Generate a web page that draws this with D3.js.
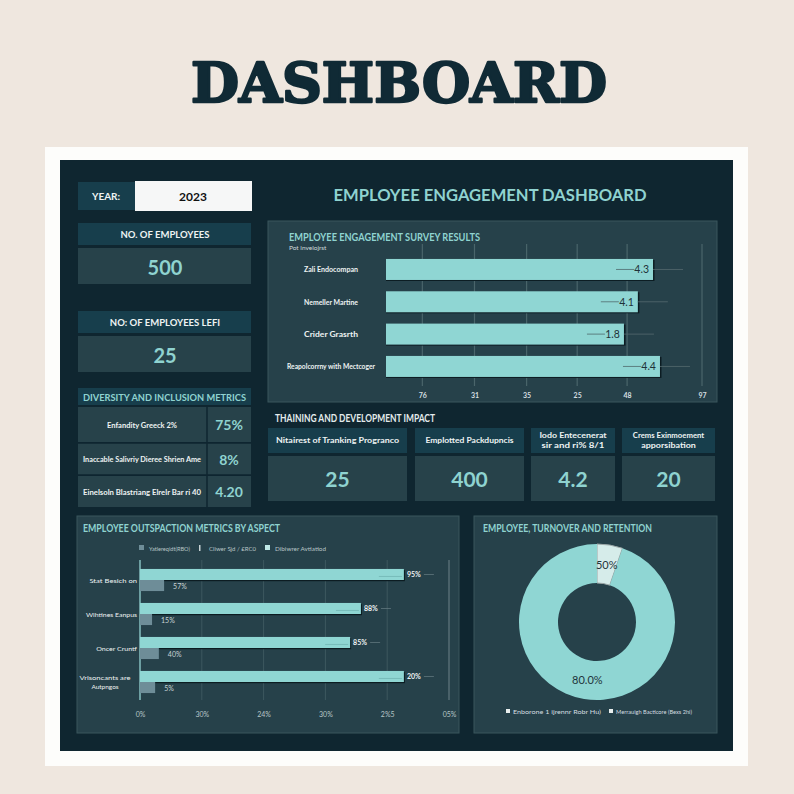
<!DOCTYPE html>
<html><head><meta charset="utf-8">
<script src="https://cdn.jsdelivr.net/npm/d3@7"></script>
<style>html,body{margin:0;padding:0;background:#efe7df;}svg{display:block;}</style>
</head><body>
<svg id="c" width="794" height="794"></svg>
<script>
// ---------- data ----------
const pageTitle = "DASHBOARD";
const dashTitle = "EMPLOYEE ENGAGEMENT DASHBOARD";
const yearLabel = "YEAR:";
const yearValue = "2023";
const kpiLabels = ["NO. OF EMPLOYEES", "NO: OF EMPLOYEES LEFI"];
const kpiValues = ["500", "25"];
const diversityTitle = "DIVERSITY AND INCLUSION METRICS";
const diversityLabels = ["Enfandity Greeck 2%", "Inaccable Salivriy Dieree Shrien Ame", "Einelsoln Blastriang Elrelr Bar ri 40"];
const diversityValues = ["75%", "8%", "4.20"];

const surveyTitle = "EMPLOYEE ENGAGEMENT SURVEY RESULTS";
const surveySubtitle = "Pot invelojrst";
const surveyCategories = ["Zali Endocompan", "Nemeller Martine", "Crider Grasrth", "Reapolcorrny with Mectcoger"];
const surveyBarValues = [84.5, 79.7, 75.3, 86.7];
const surveyLabels = ["4.3", "4.1", "1.8", "4.4"];
const surveyTickValues = [11.5, 28, 44.5, 60.5, 76.3, 100];
const surveyTickLabels = ["76", "31", "35", "25", "48", "97"];

const trainingTitle = "THAINING AND DEVELOPMENT IMPACT";
const trainingLabels = [["Nitairest of Tranking Progranco"], ["Emplotted Packdupncis"], ["Iodo Entecenerat", "sir and ri% 8/1"], ["Crems Exinmoement", "apporsibation"]];
const trainingValues = ["25", "400", "4.2", "20"];

const aspectTitle = "EMPLOYEE OUTSPACTION METRICS BY ASPECT";
const aspectCategories = [["Stat Besich on"], ["Wihtines Eanpus"], ["Oncer Cruntf"], ["Vrisoncants are", "Autpngos"]];
const aspectSeriesNames = ["Yatlereqidt(RBO)", "Cliwer Sjd / £RC0", "Dibiwrer Avtiatiod"];
const aspectTeal = [85.4, 71.5, 68.0, 85.4];
const aspectTealLabels = ["95%", "88%", "85%", "20%"];
const aspectGray = [7.8, 3.9, 6.1, 4.9];
const aspectGrayLabels = ["57%", "15%", "40%", "5%"];
const aspectTickValues = [0, 20, 40, 60, 80, 100];
const aspectTickLabels = ["0%", "30%", "24%", "30%", "2%5", "05%"];

const donutTitle = "EMPLOYEE, TURNOVER AND RETENTION";
const donutValues = [5.3, 94.7];
const donutLabels = ["50%", "80.0%"];
const donutLegend = ["Enborone 1 ijrennr Robr Hu)", "Merrauigh Bacticore (Bexs 2hi)"];

// ---------- style ----------
const C = {
  bg: "#efe7df", card: "#fdfdfb", dark: "#0f2630", head: "#173e4c", box: "#27424a",
  panel: "#26414a", border: "#3a565d", teal: "#8fd6d3", tealText: "#8fd3d0",
  white: "#eef3f3", gray: "#6e8d98", grid: "#4a656b"
};
const SANS = "Lato, 'Open Sans', 'DejaVu Sans', sans-serif";

const svg = d3.select("#c");
svg.append("rect").attr("width", 794).attr("height", 794).attr("fill", C.bg);

svg.append("text").attr("x", 399).attr("y", 102).attr("text-anchor", "middle")
  .attr("font-family", "'DejaVu Serif', serif").attr("font-weight", 900).attr("font-size", 54)
  .attr("fill", "#102a35").attr("textLength", 416).attr("lengthAdjust", "spacingAndGlyphs")
  .attr("stroke", "#102a35").attr("stroke-width", 2.4).attr("stroke-linejoin", "round")
  .text(pageTitle);

svg.append("rect").attr("x", 45).attr("y", 147).attr("width", 703).attr("height", 619).attr("fill", C.card);
svg.append("rect").attr("x", 60).attr("y", 160).attr("width", 673).attr("height", 591).attr("fill", C.dark);

function txt(g, x, y, s, o) {
  o = o || {};
  const t = g.append("text").attr("x", x).attr("y", y)
    .attr("text-anchor", o.anchor || "middle").attr("dominant-baseline", "central")
    .attr("font-family", o.family || SANS).attr("font-weight", o.weight || 700)
    .attr("font-size", o.size || 10).attr("fill", o.fill || C.white).text(s);
  if (o.len) t.attr("textLength", o.len).attr("lengthAdjust", "spacingAndGlyphs");
  return t;
}
function box(x, y, w, h, fill, stroke) {
  const r = svg.append("rect").attr("x", x).attr("y", y).attr("width", w).attr("height", h).attr("fill", fill);
  if (stroke) r.attr("stroke", stroke).attr("stroke-width", 1);
  return r;
}

// ---------- dashboard title ----------
txt(svg, 490, 194, dashTitle, { size: 17, fill: C.tealText, len: 313, weight: 700 });

// ---------- left column ----------
box(78, 182, 57, 28, C.head);
txt(svg, 106, 196, yearLabel, { size: 10 });
box(135, 181, 117, 30, "#f6f7f7");
txt(svg, 193, 196, yearValue, { size: 12, fill: "#111" });

const kpiTops = [223, 311];
kpiLabels.forEach((l, i) => {
  const y0 = kpiTops[i];
  box(78, y0, 173, 22, C.head);
  txt(svg, 165, y0 + 11.5, l, { size: 9.5 });
  box(78, y0 + 25, 173, 36, C.box);
  txt(svg, 165, y0 + 44, kpiValues[i], { size: 20, fill: C.tealText });
});

box(78, 388, 173, 17, C.head);
txt(svg, 83, 396.5, diversityTitle, { size: 10, fill: C.tealText, anchor: "start", len: 163 });
const divTops = [407, 443, 476];
const divH = [35, 32, 31];
diversityLabels.forEach((l, i) => {
  box(78, divTops[i], 173, divH[i], C.box);
  txt(svg, 142, divTops[i] + divH[i] / 2, l, { size: 7, len: l.length > 22 ? 118 : 70 });
  txt(svg, 229, divTops[i] + divH[i] / 2, diversityValues[i], { size: 14, fill: C.tealText });
});
svg.append("line").attr("x1", 207).attr("x2", 207).attr("y1", 407).attr("y2", 507)
  .attr("stroke", C.dark).attr("stroke-width", 1.5);
[443, 475].forEach(y => svg.append("line").attr("x1", 78).attr("x2", 251).attr("y1", y).attr("y2", y)
  .attr("stroke", C.dark).attr("stroke-width", 1.5));

// ---------- survey panel ----------
box(268, 221, 449, 181, C.panel, C.border);
txt(svg, 289, 237, surveyTitle, { size: 10.5, fill: C.tealText, anchor: "start", len: 191 });
txt(svg, 289, 247, surveySubtitle, { size: 6.5, fill: "#cfdadb", anchor: "start", weight: 400 });

const sx = d3.scaleLinear().domain([0, 100]).range([386, 702]);
const sy = d3.scaleBand().domain(surveyCategories).range([253.3, 382.6]).paddingInner(0.35).paddingOuter(0.175);
const sg = svg.append("g");
sg.selectAll("line.grid").data(surveyTickValues).join("line")
  .attr("x1", d => sx(d)).attr("x2", d => sx(d)).attr("y1", 244).attr("y2", 386)
  .attr("stroke", C.grid).attr("stroke-width", 1.2);
const sAxis = d3.axisBottom(sx).tickValues(surveyTickValues).tickSize(0)
  .tickFormat((d, i) => surveyTickLabels[i]);
const sAx = sg.append("g").attr("transform", "translate(0,390)").call(sAxis);
sAx.select(".domain").remove();
sAx.selectAll("text").attr("font-family", SANS).attr("font-size", 7).attr("font-weight", 700).attr("fill", "#d5dfe0");

sg.selectAll("rect.shadow").data(surveyBarValues).join("rect")
  .attr("x", sx(0)).attr("y", (d, i) => sy(surveyCategories[i]) + 1)
  .attr("width", d => sx(d) - sx(0) + 1.5).attr("height", sy.bandwidth()).attr("fill", "#0c1c22");
sg.selectAll("rect.bar").data(surveyBarValues).join("rect")
  .attr("x", sx(0)).attr("y", (d, i) => sy(surveyCategories[i]))
  .attr("width", d => sx(d) - sx(0)).attr("height", sy.bandwidth()).attr("fill", C.teal);
surveyBarValues.forEach((v, i) => {
  const yc = sy(surveyCategories[i]) + sy.bandwidth() / 2;
  const xe = sx(v);
  sg.append("line").attr("x1", xe).attr("x2", xe + 30).attr("y1", yc).attr("y2", yc)
    .attr("stroke", "#54696e").attr("stroke-width", 0.8);
  sg.append("line").attr("x1", xe - 37).attr("x2", xe - 19).attr("y1", yc).attr("y2", yc)
    .attr("stroke", "#4f6a6c").attr("stroke-width", 0.8);
  txt(sg, xe - 4, yc, surveyLabels[i], { size: 10.5, fill: "#1e3238", anchor: "end", weight: 400 });
  txt(sg, 331, yc, surveyCategories[i], { size: 7, len: surveyCategories[i].length > 20 ? 88 : 54 });
});

// ---------- training ----------
txt(svg, 275, 418, trainingTitle, { size: 10.5, fill: "#e3ebec", anchor: "start", len: 160 });
const trX = [268, 415, 531, 622];
const trW = [139, 109, 84, 93];
trainingLabels.forEach((lines, i) => {
  box(trX[i], 428, trW[i], 25, C.head);
  box(trX[i], 456, trW[i], 45, C.box);
  const cx = trX[i] + trW[i] / 2;
  lines.forEach((l, j) => {
    const y = lines.length === 1 ? 440 : 435 + j * 10;
    txt(svg, cx, y, l, { size: 7.5, len: Math.min(trW[i] - 16, l.length * 4.2) });
  });
  txt(svg, cx, 478, trainingValues[i], { size: 21, fill: C.tealText });
});

// ---------- aspect panel ----------
box(77, 516, 382, 217, C.panel, C.border);
txt(svg, 83, 528, aspectTitle, { size: 10.5, fill: C.tealText, anchor: "start", len: 197 });
const legX = [139, 199, 265];
const legLen = [41, 47, 51];
aspectSeriesNames.forEach((n, i) => {
  if (i === 1) box(legX[i], 545, 1.5, 6, "#c8d3d5");
  else box(legX[i], 545, 5, 5, i === 0 ? C.gray : "#bfe8e6");
  txt(svg, legX[i] + 10, 548, n, { size: 6, anchor: "start", fill: "#b9c6c8", weight: 400, len: legLen[i] });
});

const ax = d3.scaleLinear().domain([0, 100]).range([140, 449]);
const ay = d3.scaleBand().domain(d3.range(aspectCategories.length)).range([563, 699]).paddingInner(0.35).paddingOuter(0.175);
const ay2 = d3.scaleBand().domain(["teal", "gray"]).range([0, ay.bandwidth()]);
const ag = svg.append("g");
ag.selectAll("line.grid").data(aspectTickValues).join("line")
  .attr("x1", d => ax(d)).attr("x2", d => ax(d)).attr("y1", 560).attr("y2", 700)
  .attr("stroke", (d, i) => i === 0 ? "#86bfc0" : (i === 5 ? "#6c8288" : "#3d585e"))
  .attr("stroke-width", (d, i) => i === 0 ? 1.5 : 1);
const aAx = ag.append("g").attr("transform", "translate(0,709)")
  .call(d3.axisBottom(ax).tickValues(aspectTickValues).tickSize(0).tickFormat((d, i) => aspectTickLabels[i]));
aAx.select(".domain").remove();
aAx.selectAll("text").attr("font-family", SANS).attr("font-size", 7).attr("fill", "#b8c5c7");

ag.selectAll("rect.tshadow").data(aspectTeal).join("rect")
  .attr("x", ax(0)).attr("y", (d, i) => ay(i) + ay2("teal") + 1.2)
  .attr("width", d => ax(d) - ax(0) + 1).attr("height", ay2.bandwidth()).attr("fill", "#0c1c22");
ag.selectAll("rect.teal").data(aspectTeal).join("rect")
  .attr("x", ax(0)).attr("y", (d, i) => ay(i) + ay2("teal"))
  .attr("width", d => ax(d) - ax(0)).attr("height", ay2.bandwidth()).attr("fill", C.teal);
ag.selectAll("rect.gray").data(aspectGray).join("rect")
  .attr("x", ax(0)).attr("y", (d, i) => ay(i) + ay2("gray"))
  .attr("width", d => ax(d) - ax(0)).attr("height", ay2.bandwidth()).attr("fill", C.gray);
aspectTeal.forEach((v, i) => {
  const yt = ay(i) + ay2("teal") + ay2.bandwidth() / 2;
  const yg = ay(i) + ay2("gray") + ay2.bandwidth() / 2;
  ag.append("line").attr("x1", ax(v) + 20).attr("x2", ax(v) + 30).attr("y1", yt).attr("y2", yt)
    .attr("stroke", "#6a8086").attr("stroke-width", 0.7);
  ag.append("line").attr("x1", ax(v) - 25).attr("x2", ax(v) - 2).attr("y1", yt + 2).attr("y2", yt + 2)
    .attr("stroke", "#6fb2b0").attr("stroke-width", 0.7);
  txt(ag, ax(v) + 3, yt, aspectTealLabels[i], { size: 7, anchor: "start", fill: "#eef2f2" });
  txt(ag, ax(aspectGray[i]) + 9, yg, aspectGrayLabels[i], { size: 7, anchor: "start", fill: "#c8d3d5", weight: 400 });
  const lines = aspectCategories[i];
  lines.forEach((l, j) => {
    const y = lines.length === 1 ? ay(i) + ay.bandwidth() / 2 : ay(i) + 7 + j * 9;
    txt(ag, lines.length === 1 ? 137 : 105, y, l, { size: 6.5, anchor: lines.length === 1 ? "end" : "middle", weight: 400, len: l.length * 3.4 });
  });
});

// ---------- donut panel ----------
box(474, 516, 243, 217, C.panel, C.border);
txt(svg, 483, 528, donutTitle, { size: 10.5, fill: C.tealText, anchor: "start", len: 169 });
const pie = d3.pie().sort(null)(donutValues);
const arc = d3.arc().innerRadius(39).outerRadius(78);
const labArc = d3.arc().innerRadius(58.5).outerRadius(58.5);
const dg = svg.append("g").attr("transform", "translate(597,622)");
dg.selectAll("path").data(pie).join("path").attr("d", arc)
  .attr("fill", (d, i) => i === 0 ? "#d6ecea" : C.teal)
  .attr("stroke", (d, i) => i === 0 ? "#9aa6a6" : "none").attr("stroke-width", 1);
dg.selectAll("text").data(pie).join("text")
  .attr("transform", d => { const c = labArc.centroid(d); return `translate(${c[0]},${c[1]})`; })
  .attr("text-anchor", "middle").attr("dominant-baseline", "central")
  .attr("font-family", SANS).attr("font-size", 11).attr("fill", "#1f343a")
  .text((d, i) => donutLabels[i]);
const dlX = [508, 611];
donutLegend.forEach((l, i) => {
  box(dlX[i] - 2, 709, 4, 4, "#e8eeee");
  txt(svg, dlX[i] + 5, 711, l, { size: 6, anchor: "start", weight: 400, fill: "#d5dee0", len: i === 0 ? 88 : 76 });
});
</script>
</body></html>
